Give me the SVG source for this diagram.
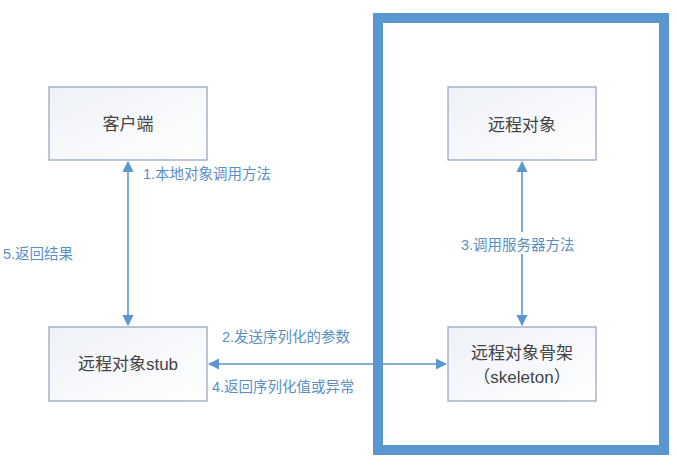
<svg xmlns="http://www.w3.org/2000/svg" width="677" height="471" viewBox="0 0 677 471">
<style>
.box{fill:url(#g);stroke:#8ea2bd;stroke-width:1.2}
.t{font-family:"Liberation Sans","Noto Sans CJK SC",sans-serif;font-size:17px;fill:#444;text-anchor:middle}
.l{font-family:"Liberation Sans","Noto Sans CJK SC",sans-serif;font-size:14.5px;fill:#5b8fc4}
.c{stroke:#5b97cf;stroke-width:1.6;fill:none;marker-start:url(#a);marker-end:url(#a)}
</style>
<defs>
<linearGradient id="g" x1="0" y1="0" x2="1" y2="1"><stop offset="0" stop-color="#eef1f7"/><stop offset="1" stop-color="#ffffff"/></linearGradient>
<marker id="a" viewBox="0 0 10 10" refX="9" refY="5" markerWidth="7" markerHeight="7" orient="auto-start-reverse"><path d="M0,0L10,5L0,10z" fill="#5b97cf"/></marker>
</defs>
<rect width="677" height="471" fill="#fff"/>
<g id="frame"><rect x="378" y="18" width="286" height="432" fill="none" stroke="#5b97cf" stroke-width="10"/></g>
<g id="client"><rect class="box" x="49" y="87" width="158" height="73"/><text class="t" x="128" y="130">客户端</text></g>
<g id="stub"><rect class="box" x="49" y="327" width="158" height="74"/><text class="t" x="128" y="370">远程对象stub</text></g>
<g id="remote"><rect class="box" x="448" y="87" width="148" height="73"/><text class="t" x="522" y="131">远程对象</text></g>
<g id="skeleton"><rect class="box" x="448" y="327" width="148" height="74"/><text class="t" x="522" y="359">远程对象骨架</text><text class="t" x="522" y="383">（skeleton）</text></g>
<g id="connectors">
<path class="c" d="M128,162V325"/>
<path class="c" d="M522,162V325"/>
<path class="c" d="M209,364H446"/>
</g>
<g id="labels">
<rect x="458" y="232" width="128" height="22" fill="#fff"/>
<text class="l" x="461" y="250">3.调用服务器方法</text>
<text class="l" x="143" y="179">1.本地对象调用方法</text>
<text class="l" x="3" y="259">5.返回结果</text>
<text class="l" x="222" y="342">2.发送序列化的参数</text>
<text class="l" x="212" y="392">4.返回序列化值或异常</text>
</g>
</svg>
